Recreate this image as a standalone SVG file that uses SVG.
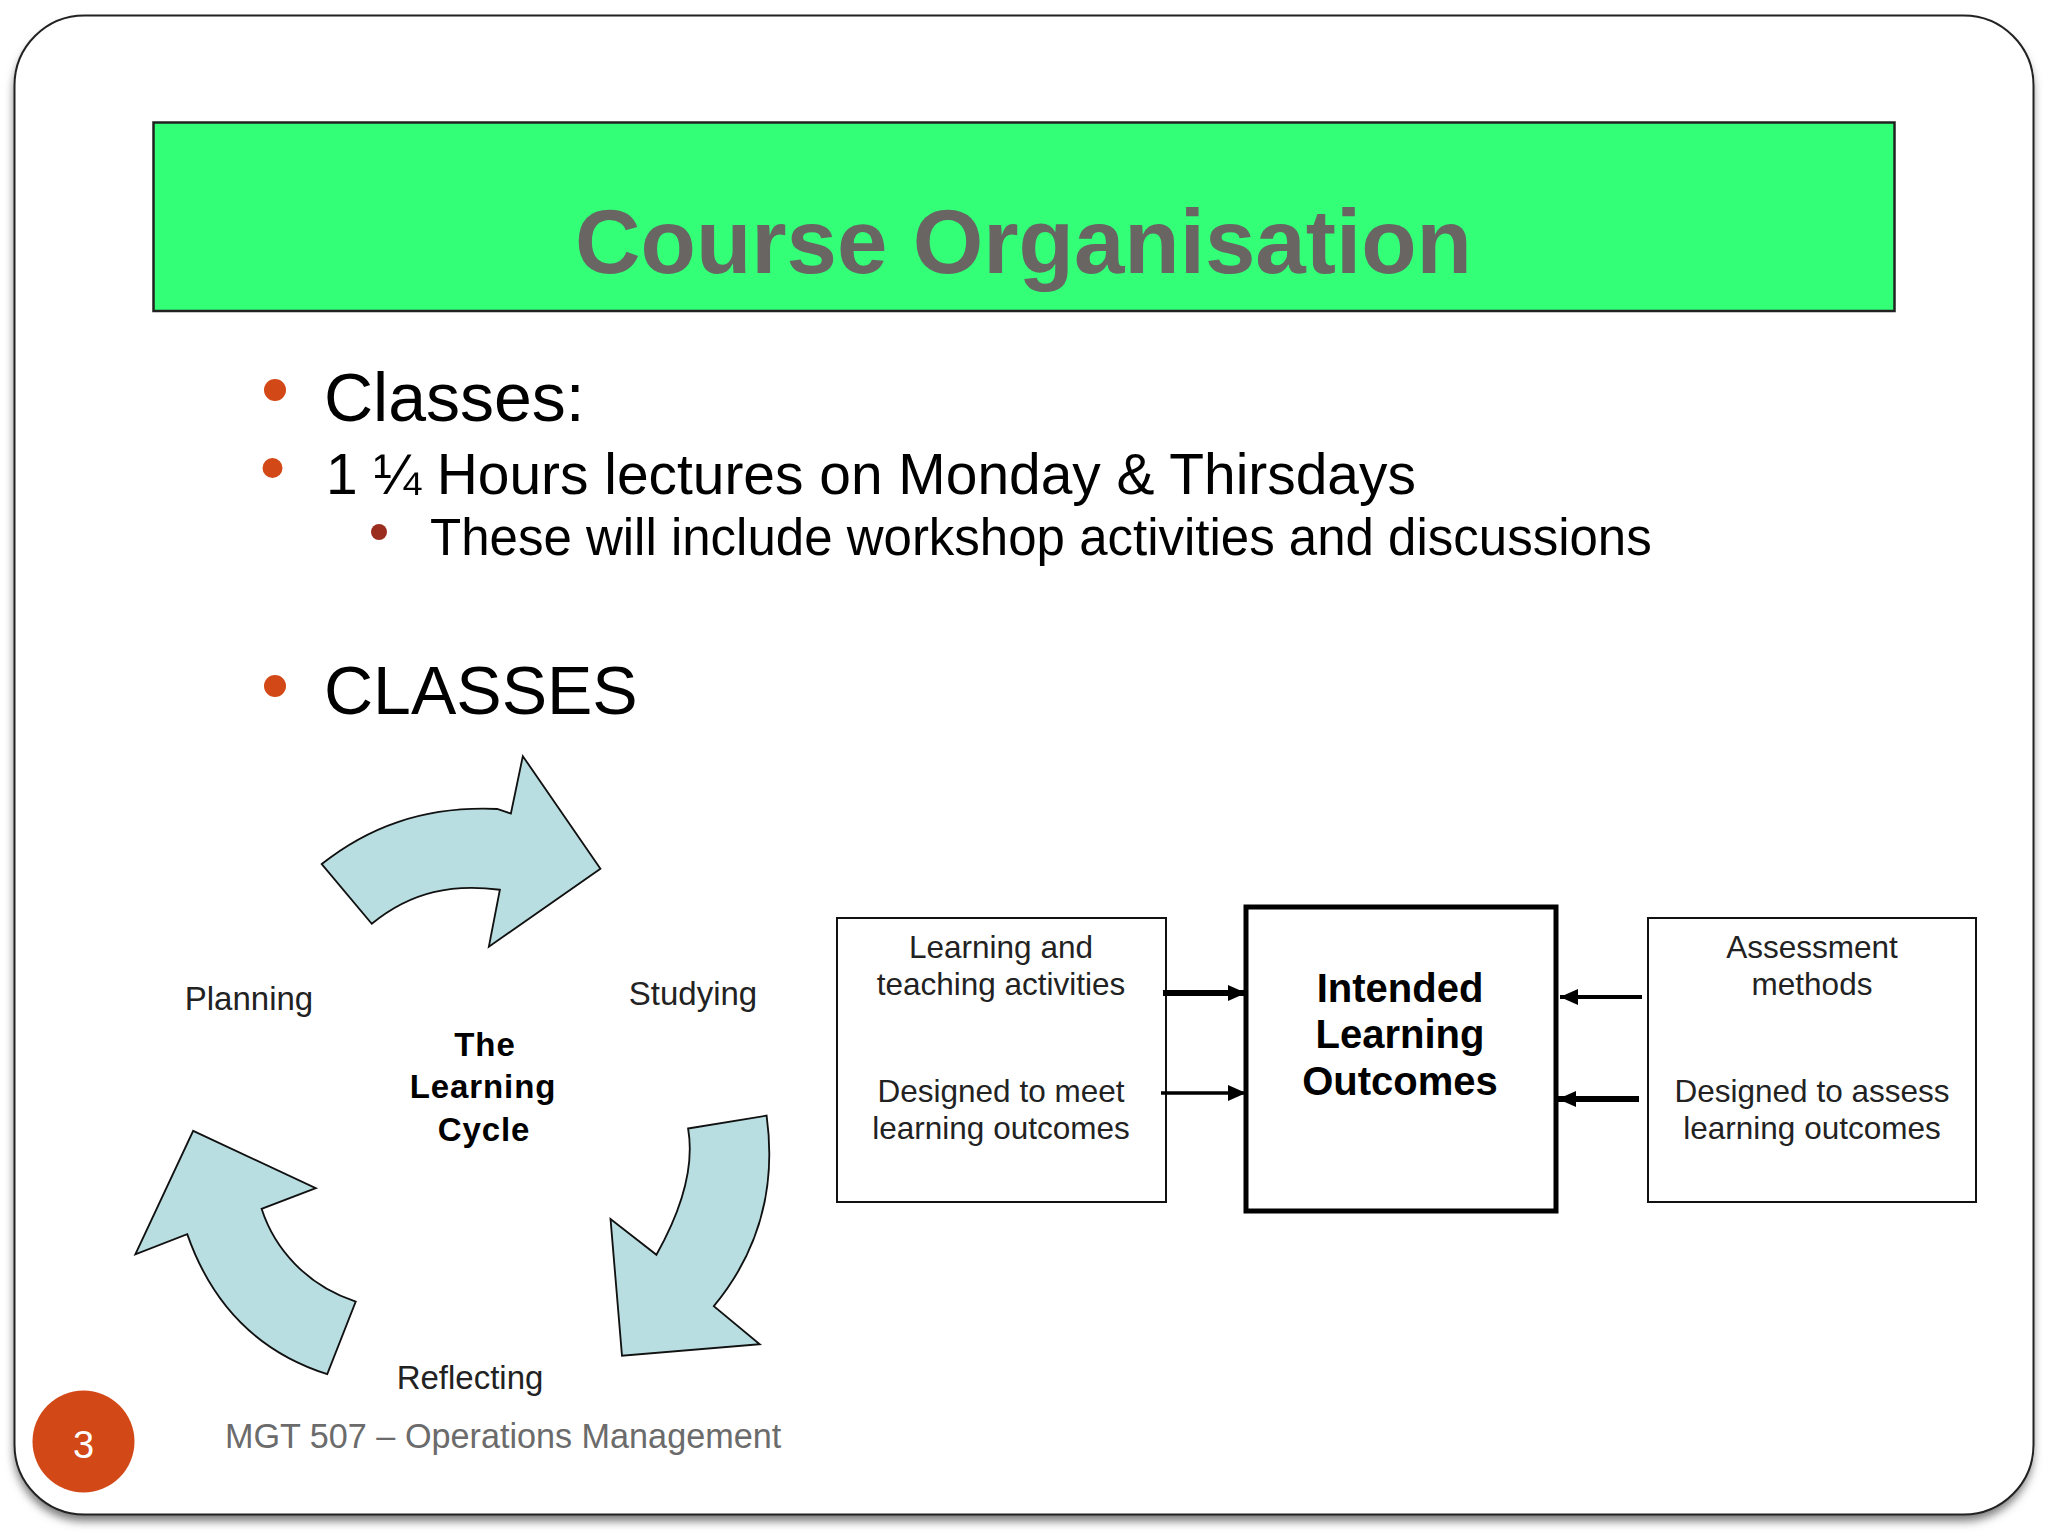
<svg xmlns="http://www.w3.org/2000/svg" width="2048" height="1536" viewBox="0 0 2048 1536">
<style>
text{font-family:"Liberation Sans",Arial,sans-serif}
.m{text-anchor:middle}
.b{fill:#000}
.h1{font-size:68px}
.lbl{font-size:33px;fill:#222;text-anchor:middle}
.bx{font-size:31.500px;fill:#222;text-anchor:middle}
.cyc{font-size:33px;font-weight:700;letter-spacing:0.9px;text-anchor:middle}
.ilo{font-size:40px;font-weight:700;text-anchor:middle}
.arc{fill:#b9dee1;stroke:#111;stroke-width:4;stroke-linejoin:miter}
.box{fill:#fff;stroke:#111;stroke-width:2}
.con{stroke:#000;fill:none}
</style>
<defs>
<filter id="sh" x="-3%" y="-3%" width="106%" height="106%"><feGaussianBlur stdDeviation="5"/></filter>
<marker id="ah" markerUnits="userSpaceOnUse" markerWidth="20" markerHeight="18" refX="18" refY="9" orient="auto"><path d="M0 1L18 9L0 17Z" fill="#000"/></marker>
</defs>
<rect width="2048" height="1536" fill="#fff"/>
<g id="frame">
<rect x="14" y="23" width="2019" height="1498" rx="70" fill="#777" filter="url(#sh)"/>
<rect x="14.500" y="15.500" width="2019" height="1499" rx="70" fill="#fff" stroke="#222" stroke-width="2"/>
</g>
<g id="title">
<rect x="153.500" y="122.500" width="1741" height="188.500" fill="#33ff77" stroke="#222" stroke-width="2.500"/>
<text x="1023.500" y="273" class="m" font-size="90.700" font-weight="700" fill="#686563">Course Organisation</text>
</g>
<g id="bullets">
<ellipse cx="275" cy="390" rx="11" ry="11" fill="#d34817"/>
<text x="324" y="421" class="h1 b">Classes:</text>
<ellipse cx="272.500" cy="468" rx="10" ry="10" fill="#d34817"/>
<text x="326" y="494" font-size="56.900" class="b">1 ¼ Hours lectures on Monday &amp; Thirsdays</text>
<ellipse cx="379" cy="532" rx="8" ry="8" fill="#9b2d1f"/>
<text x="430" y="555" font-size="51" class="b">These will include workshop activities and discussions</text>
<ellipse cx="275" cy="686" rx="11" ry="11" fill="#d34817"/>
<text x="324" y="714" class="h1 b">CLASSES</text>
</g>
<g id="cycle">
<g transform="translate(100 730) scale(0.4591)">
<path id="arrow-top" class="arc" d="M483 292C580 215 700 165 865 172L895 182L921 57L1090 302L847 472L871 348C770 335 680 350 592 422Z"/>
<path id="arrow-right" class="arc" d="M1281 868L1452 840C1474 1000 1432 1140 1337 1255L1437 1338L1137 1363L1112 1065L1212 1143C1270 1040 1295 950 1281 868Z"/>
<path id="arrow-left" class="arc" d="M203 873L470 998L352 1043C380 1130 450 1210 557 1245L495 1403C360 1360 250 1270 190 1098L77 1142Z"/>
</g>
<text x="249" y="1010" class="lbl">Planning</text>
<text x="693" y="1005" class="lbl">Studying</text>
<text x="470" y="1389" class="lbl">Reflecting</text>
<text x="485" y="1056" class="cyc">The</text>
<text x="483" y="1098" class="cyc">Learning</text>
<text x="484" y="1141" class="cyc">Cycle</text>
</g>
<g id="activities">
<rect class="box" x="837" y="918" width="329" height="284"/>
<text x="1001" y="958" class="bx">Learning and</text>
<text x="1001" y="995" class="bx">teaching activities</text>
<text x="1001" y="1102" class="bx">Designed to meet</text>
<text x="1001" y="1139" class="bx">learning outcomes</text>
</g>
<g id="outcomes">
<rect x="1246" y="907" width="310" height="304" fill="#fff" stroke="#000" stroke-width="5"/>
<text x="1400" y="1002" class="ilo">Intended</text>
<text x="1400" y="1048" class="ilo">Learning</text>
<text x="1400" y="1095" class="ilo">Outcomes</text>
</g>
<g id="assessment">
<rect class="box" x="1648" y="918" width="328" height="284"/>
<text x="1812" y="958" class="bx">Assessment</text>
<text x="1812" y="995" class="bx">methods</text>
<text x="1812" y="1102" class="bx">Designed to assess</text>
<text x="1812" y="1139" class="bx">learning outcomes</text>
</g>
<g id="connectors">
<line class="con" x1="1163" y1="993" x2="1246" y2="993" stroke-width="6" marker-end="url(#ah)"/>
<line class="con" x1="1161" y1="1093" x2="1246" y2="1093" stroke-width="3.500" marker-end="url(#ah)"/>
<line class="con" x1="1642" y1="997" x2="1560" y2="997" stroke-width="4" marker-end="url(#ah)"/>
<line class="con" x1="1639" y1="1099" x2="1558" y2="1099" stroke-width="6" marker-end="url(#ah)"/>
</g>
<g id="footer">
<text x="225" y="1448" font-size="34.200" fill="#6b6b6b">MGT 507 – Operations Management</text>
<circle cx="83.500" cy="1441.500" r="51" fill="#d34817"/>
<text x="83.500" y="1458" class="m" font-size="38" fill="#fff">3</text>
</g>
</svg>
